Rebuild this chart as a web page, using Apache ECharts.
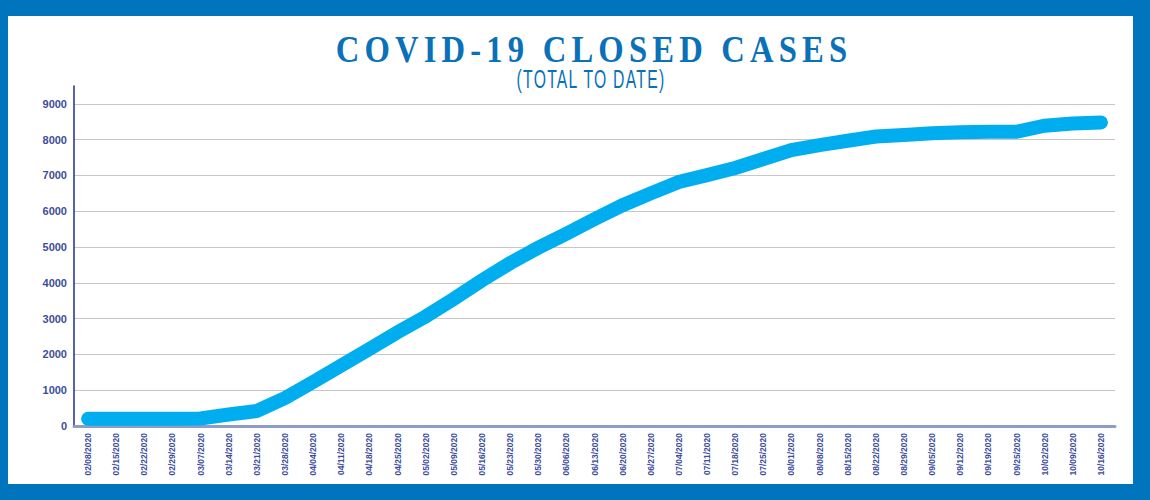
<!DOCTYPE html>
<html>
<head>
<meta charset="utf-8">
<script src="https://cdn.jsdelivr.net/npm/echarts@6/dist/echarts.min.js"></script>
<style>
  html, body { margin: 0; padding: 0; width: 1150px; height: 500px; background: #0075be; overflow: hidden; }
  #panel { position: absolute; left: 8px; top: 16px; width: 1125px; height: 468px; background: #ffffff; }
  #chart { position: absolute; left: 0; top: 0; width: 1150px; height: 500px; }
  #chart svg text[style*="Liberation Serif"] { letter-spacing: 6px; }
  #chart svg text[style*="25px"] { letter-spacing: 2px; }
</style>
</head>
<body>
<div id="panel"></div>
<div id="chart"></div>
<script>
const titleText = 'COVID-19 CLOSED CASES';
const subtitleText = '(TOTAL TO DATE)';
const dates = [
  '02/08/2020','02/15/2020','02/22/2020','02/29/2020','03/07/2020','03/14/2020','03/21/2020','03/28/2020',
  '04/04/2020','04/11/2020','04/18/2020','04/25/2020','05/02/2020','05/09/2020','05/16/2020','05/23/2020',
  '05/30/2020','06/06/2020','06/13/2020','06/20/2020','06/27/2020','07/04/2020','07/11/2020','07/18/2020',
  '07/25/2020','08/01/2020','08/08/2020','08/15/2020','08/22/2020','08/29/2020','09/05/2020','09/12/2020',
  '09/19/2020','09/25/2020','10/02/2020','10/09/2020','10/16/2020'
];
const closedCases = [
  200, 200, 200, 200, 210, 320, 420, 780,
  1230, 1690, 2150, 2620, 3060, 3550, 4070, 4550,
  4980, 5370, 5780, 6170, 6500, 6820, 7010, 7210,
  7460, 7710, 7850, 7970, 8090, 8130, 8180, 8210,
  8220, 8220, 8390, 8450, 8480
];
const yTicks = [0, 1000, 2000, 3000, 4000, 5000, 6000, 7000, 8000, 9000];

const labelColor = '#3d4d9b';
const titleColor = '#0a71b9';
const sans = "'Liberation Sans', Arial, sans-serif";

const chart = echarts.init(document.getElementById('chart'), null, { renderer: 'svg' });
chart.setOption({
  backgroundColor: 'transparent',
  animation: false,
  graphic: [
    {
      type: 'text', x: 594, y: 49, scaleX: 0.86, scaleY: 1,
      style: {
        text: titleText, x: 0, y: 0, align: 'center', verticalAlign: 'middle',
        fill: titleColor, font: "bold 38px 'Liberation Serif'"
      }
    },
    {
      type: 'text', x: 591, y: 79, scaleX: 0.63, scaleY: 1,
      style: {
        text: subtitleText, x: 0, y: 0, align: 'center', verticalAlign: 'middle',
        fill: titleColor, font: "normal 25px 'Liberation Sans'"
      }
    }
  ],
  grid: { left: 74, right: 35, top: 86, bottom: 74, containLabel: false },
  xAxis: {
    type: 'category',
    data: dates,
    boundaryGap: true,
    axisLine: { show: true, lineStyle: { color: '#8f9cc6', width: 3 } },
    axisTick: { show: false },
    axisLabel: {
      interval: 0, rotate: 90, margin: 7,
      color: labelColor, fontFamily: sans, fontWeight: 'bold', fontSize: 8.5
    },
    splitLine: { show: false }
  },
  yAxis: {
    type: 'value',
    min: 0, max: 9500, interval: 1000,
    axisLine: { show: true, lineStyle: { color: '#1f2e8c', width: 1.5 } },
    axisTick: { show: false },
    axisLabel: {
      color: labelColor, fontFamily: sans, fontWeight: 'bold', fontSize: 11, margin: 7,
      showMaxLabel: false,
      formatter: v => (yTicks.indexOf(v) >= 0 ? String(v) : '')
    },
    splitLine: { show: true, showMaxLine: false, lineStyle: { color: '#c6c6c6', width: 1 } }
  },
  series: [{
    type: 'line',
    data: closedCases,
    showSymbol: false,
    symbol: 'none',
    lineStyle: { color: '#00aeef', width: 14, cap: 'round', join: 'miter' },
    z: 5
  }]
});
</script>
</body>
</html>
